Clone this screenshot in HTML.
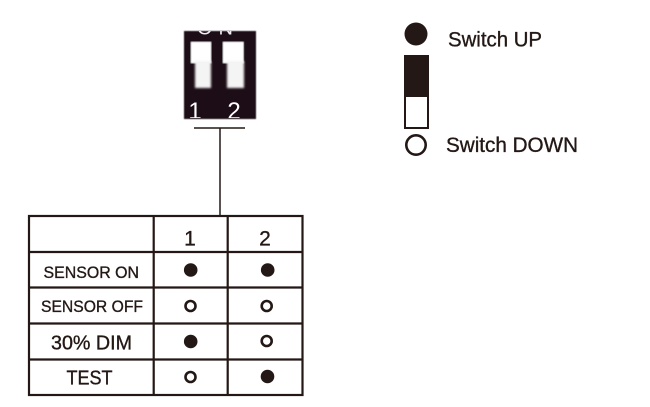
<!DOCTYPE html>
<html>
<head>
<meta charset="utf-8">
<style>
html,body{margin:0;padding:0;background:#fff;width:650px;height:407px;overflow:hidden}
svg{display:block}
text{font-family:"Liberation Sans",sans-serif;fill:#231815}
.t{stroke:#231815;stroke-width:.35px}
</style>
</head>
<body>
<svg width="650" height="407" viewBox="0 0 650 407" xmlns="http://www.w3.org/2000/svg">
<defs>
<filter id="b" x="-30%" y="-30%" width="160%" height="160%"><feGaussianBlur stdDeviation="1.1"/></filter>
<filter id="s" x="-10%" y="-10%" width="120%" height="120%"><feGaussianBlur stdDeviation="0.5"/></filter>
<clipPath id="c"><rect x="184" y="31" width="72" height="87"/></clipPath>
</defs>

<!-- DIP switch -->
<g filter="url(#s)">
<rect x="184" y="31" width="72" height="88" fill="#1d1112"/>
<rect x="191" y="42" width="20" height="21" fill="#fff"/>
<rect x="223" y="42" width="20.5" height="21" fill="#fff"/>
</g>
<rect x="195" y="61" width="16" height="27" fill="#f4f4f4" filter="url(#b)"/>
<rect x="227" y="61" width="17" height="27" fill="#f4f4f4" filter="url(#b)"/>
<g clip-path="url(#c)">
<text x="197" y="34.5" font-size="20" style="fill:#eee" textLength="36">ON</text>
<text x="195" y="119" font-size="24" text-anchor="middle" style="fill:#fff">1</text>
<text x="234" y="119" font-size="24" text-anchor="middle" style="fill:#fff">2</text>
</g>

<!-- Connector -->
<line x1="194" y1="128" x2="245" y2="128" stroke="#231815" stroke-width="1.5"/>
<line x1="220" y1="128" x2="220" y2="216" stroke="#231815" stroke-width="1.5"/>

<!-- Legend -->
<circle cx="416" cy="34" r="11.5" fill="#231815"/>
<rect x="404" y="55" width="25" height="74" fill="#231815"/>
<rect x="406" y="97" width="21" height="30" fill="#fff"/>
<circle cx="416" cy="145" r="9.7" fill="#fff" stroke="#231815" stroke-width="2.6"/>
<text class="t" x="448" y="46.5" font-size="21" textLength="94" lengthAdjust="spacingAndGlyphs">Switch UP</text>
<text class="t" x="446" y="152" font-size="21" textLength="132" lengthAdjust="spacingAndGlyphs">Switch DOWN</text>

<!-- Table -->
<g stroke="#231815" stroke-width="2.2" fill="none">
<rect x="29" y="216" width="273.5" height="179"/>
<line x1="153.7" y1="216" x2="153.7" y2="395"/>
<line x1="227.7" y1="216" x2="227.7" y2="395"/>
<line x1="29" y1="252" x2="302.5" y2="252"/>
<line x1="29" y1="287.5" x2="302.5" y2="287.5"/>
<line x1="29" y1="323.5" x2="302.5" y2="323.5"/>
<line x1="29" y1="359.5" x2="302.5" y2="359.5"/>
</g>

<text class="t" x="190" y="245.5" font-size="21" text-anchor="middle">1</text>
<text class="t" x="265" y="245.5" font-size="21" text-anchor="middle">2</text>
<text class="t" x="43.5" y="278" font-size="17" textLength="95.5" lengthAdjust="spacingAndGlyphs">SENSOR ON</text>
<text class="t" x="41" y="312" font-size="17" textLength="102" lengthAdjust="spacingAndGlyphs">SENSOR OFF</text>
<text class="t" x="51" y="349.5" font-size="20" textLength="81" lengthAdjust="spacingAndGlyphs">30% DIM</text>
<text class="t" x="66.5" y="384.5" font-size="20" textLength="46" lengthAdjust="spacingAndGlyphs">TEST</text>

<!-- Dots -->
<g fill="#231815">
<circle cx="190.7" cy="270" r="6.8"/>
<circle cx="267.7" cy="270" r="6.8"/>
<circle cx="190.7" cy="341.5" r="6.8"/>
<circle cx="267.5" cy="376.5" r="6.8"/>
</g>
<g fill="#fff" stroke="#231815" stroke-width="2.6">
<circle cx="190.5" cy="306" r="5"/>
<circle cx="266.7" cy="306" r="5"/>
<circle cx="266.7" cy="341" r="5"/>
<circle cx="190.5" cy="377" r="5"/>
</g>
</svg>
</body>
</html>
